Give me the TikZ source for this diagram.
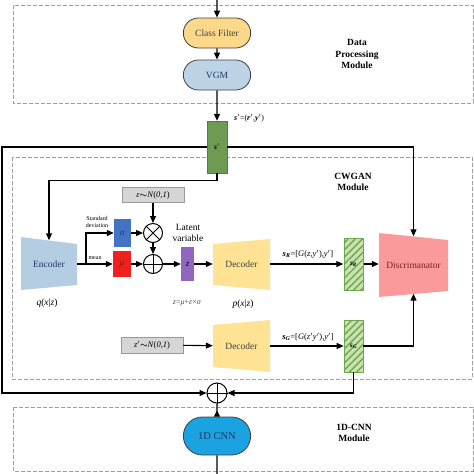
\documentclass[tikz,border=0pt]{standalone}
\usepackage{amsmath,amssymb}
\usepackage{fontspec}
\setmainfont{Liberation Serif}
\usetikzlibrary{positioning,calc,arrows.meta,shapes.misc,patterns.meta}

\definecolor{cfyellow}{HTML}{FCD98A}
\definecolor{vgmblue}{HTML}{BCD4E6}
\definecolor{cnnblue}{HTML}{1AA3E0}
\definecolor{encblue}{HTML}{B4CDE3}
\definecolor{decyellow}{HTML}{FFE395}
\definecolor{discpink}{HTML}{FB9A9A}
\definecolor{sgreen}{HTML}{6E9B52}
\definecolor{sdark}{HTML}{507E3A}
\definecolor{hatchfill}{HTML}{C9E2B3}
\definecolor{hatchline}{HTML}{6FA84A}
\definecolor{zpurple}{HTML}{9266C0}
\definecolor{sigblue}{HTML}{4472C4}
\definecolor{mured}{HTML}{F0201C}
\definecolor{navy}{HTML}{1F3864}
\definecolor{darkred}{HTML}{7F1F1F}
\definecolor{boxgray}{HTML}{D6D6D6}

\newcommand{\bi}[1]{\textbf{\textit{#1}}}

\begin{document}
\begin{tikzpicture}[x=1pt,y=-1pt,
    arr/.style={line width=1.1pt,-{Triangle[length=7pt,width=6pt]}},
    conn/.style={line width=1.1pt},
    modbox/.style={draw=gray!75,line width=1pt,dash pattern=on 4pt off 2pt},
    modlabel/.style={align=center,font=\fontsize{9.5}{11.5}\selectfont\bfseries},
    pill/.style={rounded rectangle,draw=black!75,line width=0.8pt,minimum width=74pt,minimum height=30pt,font=\fontsize{9.5}{11}\selectfont},
    vecbox/.style={inner sep=0pt,minimum width=19pt,minimum height=52pt,font=\fontsize{7.5}{8}\selectfont},
    hatch/.style={draw=hatchline,line width=0.6pt,preaction={fill=hatchfill},pattern={Lines[angle=45,distance=5pt,line width=1.4pt]},pattern color=hatchline},
    opcirc/.style={circle,draw,line width=1pt,minimum size=19pt,inner sep=0pt},
    graybox/.style={draw=black!40,fill=boxgray,minimum width=62pt,minimum height=15pt,inner sep=0pt,font=\fontsize{8.5}{10}\selectfont},
    netlab/.style={font=\fontsize{9.5}{11}\selectfont,inner sep=0pt},
    tinylab/.style={font=\fontsize{6}{6.5}\selectfont,align=center,inner sep=0pt},
    eqlab/.style={font=\fontsize{8.5}{10}\selectfont,inner sep=0pt}]
    \useasboundingbox (0,0) rectangle (474,474);

    % data processing module
    \draw[modbox] (13,5) rectangle (473,103);
    \node[pill,fill=cfyellow,text=black!75] (cf) at (217,33) {Class Filter};
    \node[pill,fill=vgmblue,text=navy] (vgm) at (217,75) {VGM};
    \node[modlabel] (dpl) at (357,54) {Data\\Processing\\Module};
    \coordinate (src) at (217,0);

    % cwgan module
    \draw[modbox] (12,157) rectangle (472,379);
    \node[modlabel] (cwl) at (353,182) {CWGAN\\Module};
    \node[vecbox,draw=sdark,fill=sgreen,minimum width=20pt] (sp) at (217,147) {\bi{s}$'$};
    \node[eqlab,anchor=west,font=\fontsize{8}{9}\selectfont] (spl) at (234,118) {\bi{s}$'$=(\bi{r}$'$,\bi{y}$'$)};

    \fill[encblue] (21,237) -- (77,244) -- (77,285) -- (21,290) -- cycle;
    \node[netlab,text=navy,minimum width=56pt,minimum height=47pt] (enc) at (49,264) {Encoder};
    \node[eqlab,font=\fontsize{9.5}{10}\selectfont] (qxz) at (47,303) {\textit{q}(\textit{x}|\textit{z})};
    \coordinate (jn) at (86,264);
    \node[tinylab] (sdl) at (97,222) {Standard\\deviation};
    \node[tinylab] (mnl) at (95,258) {mean};
    \node[inner sep=0pt,fill=sigblue,text=navy,minimum width=17pt,minimum height=28pt,font=\fontsize{9}{10}\selectfont] (sig) at (122.5,233) {\textit{σ}};
    \node[inner sep=0pt,fill=mured,text=darkred,minimum width=18pt,minimum height=26pt,font=\fontsize{9}{10}\selectfont] (mu) at (122,264) {\textit{μ}};
    \node[opcirc] (mul) at (153,233) {};
    \draw[line width=1pt] (mul.north west) -- (mul.south east) (mul.north east) -- (mul.south west);
    \node[graybox] (eps) at (153,195) {\textit{ε}$\boldsymbol{\sim}$\textit{N}(\textit{0,1})};
    \node[opcirc] (add) at (153,264) {};
    \draw[line width=1pt] (add.north) -- (add.south) (add.west) -- (add.east);
    \node[inner sep=0pt,fill=zpurple,minimum width=13pt,minimum height=34pt,font=\fontsize{9}{10}\selectfont] (z) at (187.5,264) {\textit{z}};
    \node[align=center,font=\fontsize{9.5}{11}\selectfont] (lat) at (188,233) {Latent\\variable};
    \node[eqlab,text=black!70,font=\fontsize{8}{9}\selectfont] (zeq) at (187,303) {\textit{z}=\textit{μ}+\textit{ε}×\textit{σ}};

    \fill[decyellow] (213,244) -- (270,239) -- (270,290) -- (213,285) -- cycle;
    \node[netlab,text=black!75,minimum width=57pt,minimum height=46pt] (dec1) at (241.5,264) {Decoder};
    \node[eqlab,font=\fontsize{9.5}{10}\selectfont] (pxz) at (243,304) {\textit{p}(\textit{x}|\textit{z})};
    \node[vecbox,hatch] (sr) at (353.5,264) {\bi{s}\textsubscript{\bi{R}}};
    \node[eqlab] (srl) at (308,254) {\bi{s}\textsubscript{\bi{R}}=[\textit{G}(\textit{z},\textit{y}$'$),\textit{y}$'$]};

    \fill[discpink] (379,233) -- (448,240) -- (448,291) -- (379,297) -- cycle;
    \node[netlab,text=darkred,minimum width=69pt,minimum height=57pt] (disc) at (413.5,265) {Discrimanator};

    \node[graybox,minimum height=16pt] (zp) at (152,345) {\textit{z}$'$$\boldsymbol{\sim}$\textit{N}(\textit{0,1})};
    \fill[decyellow] (213,325) -- (270,320) -- (270,372) -- (213,367) -- cycle;
    \node[netlab,text=black!75,minimum width=57pt,minimum height=47pt] (dec2) at (241.5,346) {Decoder};
    \node[vecbox,hatch] (sg) at (353.5,346) {\bi{s}\textsubscript{\bi{G}}};
    \node[eqlab] (sgl) at (308,337) {\bi{s}\textsubscript{\bi{G}}=[\textit{G}(\textit{z}$'$\textit{y}$'$),\textit{y}$'$]};

    % 1d-cnn module
    \node[opcirc,minimum size=20pt] (add2) at (217,393) {};
    \draw[line width=1pt] (add2.north) -- (add2.south) (add2.west) -- (add2.east);
    \coordinate (lc) at (2,393);
    \draw[modbox] (13,407) rectangle (473,471);
    \node[pill,fill=cnnblue,text=navy,minimum height=38pt,font=\fontsize{10.5}{12}\selectfont] (cnn) at (217,436) {1D CNN};
    \node[modlabel] (cnnl) at (354,433) {1D-CNN\\Module};
    \coordinate (out) at (217,474);

    % connectors
    \draw[arr] (src) -- (cf);
    \draw[arr] (cf) -- (vgm);
    \draw[arr] (vgm) -- (sp);
    \draw[arr] (sp.west) -| (lc) -- (add2);
    \draw[arr] (sp.east) -| (disc.north);
    \draw[arr] (sp.south) -- ++(0,7) -| (enc.north);
    \draw[conn] (enc.east) -- (jn);
    \draw[arr] (jn) |- (sig);
    \draw[arr] (jn) -- (mu);
    \draw[arr] (eps) -- (mul);
    \draw[arr] (sig) -- (mul);
    \draw[arr] (mul) -- (add);
    \draw[arr] (mu) -- (add);
    \draw[arr] (add) -- (z);
    \draw[arr] (z) -- (dec1);
    \draw[arr] (dec1) -- (sr);
    \draw[arr] (sr) -- (sr -| disc.west);
    \draw[arr] (zp) -- (dec2);
    \draw[arr] (dec2) -- (sg);
    \draw[arr] (sg) -| (disc.south);
    \draw[arr] (sg) |- (add2);
    \draw[conn,{Triangle[reversed,length=6pt,width=6pt]}-] (cnn) -- (add2);
    \draw[conn] (cnn) -- (out);
\end{tikzpicture}
\end{document}
